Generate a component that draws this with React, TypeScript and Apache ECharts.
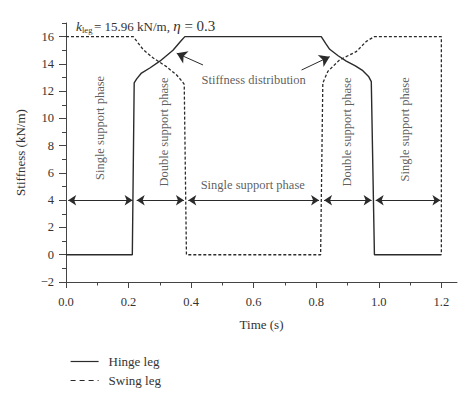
import { useEffect, useRef } from 'react';
import * as echarts from 'echarts';

// ─── Data ─────────────────────────────────────────────────────────────────────

const hingeT = [0, 0.212, 0.218, 0.226, 0.24, 0.268, 0.3, 0.342, 0.368, 0.38, 0.816, 0.83, 0.843, 0.87, 0.896, 0.925, 0.949, 0.968, 0.976, 0.986, 1.2];
const hingeK = [0, 0, 12.6, 12.9, 13.3, 13.7, 14.2, 15.0, 15.7, 16, 16, 15.5, 15.07, 14.6, 14.2, 13.85, 13.5, 13.05, 12.7, 0, 0];

const swingT = [0, 0.215, 0.247, 0.279, 0.321, 0.353, 0.372, 0.378, 0.385, 0.814, 0.821, 0.837, 0.875, 0.928, 0.96, 0.986, 1.2, 1.2];
const swingK = [16, 16, 15.04, 14.43, 13.8, 13.2, 12.7, 12.5, 0, 0, 12.6, 13.45, 14.3, 14.9, 15.65, 16, 16, 0];

const xMajor = [0, 0.2, 0.4, 0.6, 0.8, 1.0, 1.2];
const xMinor = [0.1, 0.3, 0.5, 0.7, 0.9, 1.1];
const yMajor = [-2, 0, 2, 4, 6, 8, 10, 12, 14, 16];
const yMinor = [-1, 1, 3, 5, 7, 9, 11, 13, 15, 17];

const phaseLevel = 4;
const phaseStart = [0.007, 0.226, 0.391, 0.825, 0.99];
const phaseEnd = [0.213, 0.377, 0.809, 0.977, 1.197];

const phaseLabels = ['Single support phase', 'Double support phase', 'Single support phase', 'Double support phase', 'Single support phase'];
const labelT = [0.109, 0.313, 0.597, 0.899, 1.083];
const labelK = [9.3, 9.0, 5.1, 9.0, 9.2];
const labelRotate = [90, 90, 0, 90, 90];

const noteText = 'Stiffness distribution';
const notePos = [0.6, 12.8];
const noteTails = [[0.438, 13.92], [0.753, 13.55]];
const noteTips = [[0.354, 14.78], [0.843, 14.53]];

// ─── Styles ───────────────────────────────────────────────────────────────────

const FONT = '"Liberation Serif", "Times New Roman", serif';
const INK = '#2b2b2b';
const TEXT = '#333';

function buildOption(): echarts.EChartsOption {
  const hinge = hingeT.map((t, i) => [t, hingeK[i]]);
  const swing = swingT.map((t, i) => [t, swingK[i]]);

  const phaseLines = phaseStart.map((s, i) => [
    { coord: [s, phaseLevel] },
    { coord: [phaseEnd[i], phaseLevel] },
  ]);
  const noteLines = noteTails.map((tail, i) => [
    { coord: tail, symbol: 'none' },
    { coord: noteTips[i], symbol: 'arrow', symbolSize: 10 },
  ]);

  const labels = phaseLabels.map((text, i) => ({
    value: [labelT[i], labelK[i]],
    label: { formatter: text, rotate: labelRotate[i] },
  }));
  labels.push({ value: notePos, label: { formatter: noteText, rotate: 0 } });

  const axisLine = { lineStyle: { color: '#444', width: 1 } };

  return {
    animation: false,
    textStyle: { fontFamily: FONT },
    grid: { left: 66, right: 17, top: 23, bottom: 125, containLabel: false },
    graphic: [
      {
        type: 'text',
        left: 76,
        top: 19,
        style: { text: 'k', font: `italic 13.5px ${FONT}`, fill: TEXT },
      },
      {
        type: 'text',
        left: 82,
        top: 25,
        style: { text: 'leg', font: `8.5px ${FONT}`, fill: TEXT },
      },
      {
        type: 'text',
        left: 94,
        top: 18,
        style: {
          text: '{t|= 15.96 kN/m, }{e|η}{t2| = 0.3}',
          fill: TEXT,
          rich: {
            t: { fontFamily: FONT, fontSize: 13, fill: TEXT, verticalAlign: 'bottom' },
            e: { fontFamily: FONT, fontStyle: 'italic', fontSize: 15, fill: TEXT, verticalAlign: 'bottom' },
            t2: { fontFamily: FONT, fontSize: 15, fill: TEXT, verticalAlign: 'bottom' },
          },
        },
      },
    ],
    legend: {
      orient: 'vertical',
      left: 65,
      top: 350,
      itemWidth: 28,
      itemHeight: 14,
      itemGap: 6,
      textStyle: { fontFamily: FONT, fontSize: 13, color: TEXT, padding: [0, 0, 0, 5] },
      data: [
        { name: 'Hinge leg', lineStyle: { type: 'solid', width: 1.2 }, itemStyle: { opacity: 0 } },
        { name: 'Swing leg', lineStyle: { type: [5, 4], width: 1.2 }, itemStyle: { opacity: 0 } },
      ],
    },
    xAxis: [
      {
        type: 'value',
        min: 0,
        max: 1.25,
        interval: 0.2,
        name: 'Time (s)',
        nameLocation: 'middle',
        nameGap: 36,
        nameTextStyle: { fontFamily: FONT, fontSize: 13, color: TEXT },
        axisLine: { ...axisLine, onZero: false },
        axisTick: { show: true, length: 6, customValues: xMajor, lineStyle: { color: '#444' } },
        axisLabel: {
          customValues: xMajor,
          formatter: (v: number) => v.toFixed(1),
          fontFamily: FONT,
          fontSize: 12.5,
          color: TEXT,
          margin: 13,
        },
        splitLine: { show: false },
      },
      {
        type: 'value',
        min: 0,
        max: 1.25,
        position: 'bottom',
        axisLine: { show: false, onZero: false },
        axisTick: { show: true, length: 3.5, customValues: xMinor, lineStyle: { color: '#444' } },
        axisLabel: { show: false },
        splitLine: { show: false },
      },
    ],
    yAxis: [
      {
        type: 'value',
        min: -2,
        max: 17,
        interval: 2,
        name: 'Stiffness (kN/m)',
        nameLocation: 'middle',
        nameGap: 39,
        nameTextStyle: { fontFamily: FONT, fontSize: 13, color: TEXT },
        axisLine: { ...axisLine, onZero: false },
        axisTick: { show: true, length: 7, customValues: yMajor, lineStyle: { color: '#444' } },
        axisLabel: {
          customValues: yMajor,
          formatter: (v: number) => (v < 0 ? '\u2212' + Math.abs(v) : String(v)),
          fontFamily: FONT,
          fontSize: 12.5,
          color: TEXT,
          margin: 12,
        },
        splitLine: { show: false },
      },
      {
        type: 'value',
        min: -2,
        max: 17,
        position: 'left',
        axisLine: { show: false, onZero: false },
        axisTick: { show: true, length: 4, customValues: yMinor, lineStyle: { color: '#444' } },
        axisLabel: { show: false },
        splitLine: { show: false },
      },
    ],
    series: [
      {
        name: 'Hinge leg',
        type: 'line',
        data: hinge,
        symbol: 'none',
        lineStyle: { color: INK, width: 1.4, type: 'solid' },
        itemStyle: { color: INK },
        silent: true,
        markLine: {
          silent: true,
          symbol: ['arrow', 'arrow'],
          symbolSize: 8,
          label: { show: false },
          lineStyle: { color: INK, width: 1, type: 'solid' },
          emphasis: { disabled: true },
          data: [...phaseLines, ...noteLines] as any,
        },
      },
      {
        name: 'Swing leg',
        type: 'line',
        data: swing,
        symbol: 'none',
        lineStyle: { color: INK, width: 1.3, type: [3, 2] },
        itemStyle: { color: INK },
        silent: true,
      },
      {
        type: 'scatter',
        data: labels as any,
        symbolSize: 0,
        silent: true,
        label: {
          show: true,
          position: 'inside',
          fontFamily: FONT,
          fontSize: 12.5,
          color: TEXT,
          align: 'center',
          verticalAlign: 'middle',
        },
      },
    ],
  };
}

// ─── Component ────────────────────────────────────────────────────────────────

export default function App() {
  const ref = useRef<HTMLDivElement>(null);

  useEffect(() => {
    document.body.style.margin = '0';
    if (!ref.current) return;
    const chart = echarts.init(ref.current, null, { renderer: 'svg' });
    chart.setOption(buildOption());
    return () => chart.dispose();
  }, []);

  return <div ref={ref} style={{ width: 474, height: 407, background: '#fff' }} />;
}
